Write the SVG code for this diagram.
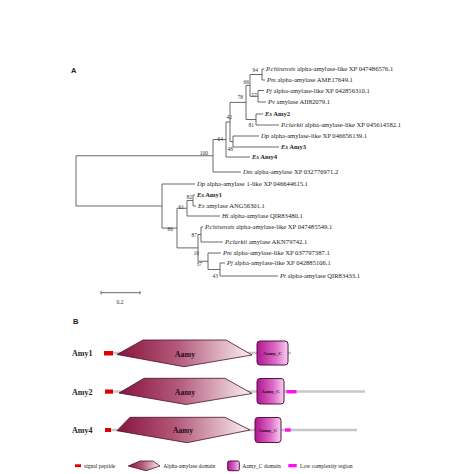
<svg xmlns="http://www.w3.org/2000/svg" width="474" height="474" viewBox="0 0 474 474">
<defs>
<linearGradient id="gAamy" x1="0" y1="0" x2="1" y2="0">
<stop offset="0" stop-color="#86143e"/>
<stop offset="0.45" stop-color="#b45a7a"/>
<stop offset="1" stop-color="#faf0f3"/>
</linearGradient>
<linearGradient id="gC" x1="0" y1="0" x2="1" y2="0">
<stop offset="0" stop-color="#b0168f"/>
<stop offset="0.6" stop-color="#dc6cc6"/>
<stop offset="1" stop-color="#f6d0ee"/>
</linearGradient>
<style>
.t{font-family:"Liberation Serif",serif;font-size:6.6px;fill:#222}
.i{font-style:italic}
.b{font-weight:bold}
.bs{font-family:"Liberation Serif",serif;font-size:5.5px;fill:#333;text-anchor:end}
.edge{fill:none;stroke:#444;stroke-width:0.8}
.hdr{font-family:"Liberation Sans",sans-serif;font-size:7.5px;font-weight:bold;fill:#222}
.nm{font-family:"Liberation Serif",serif;font-size:8px;font-weight:bold;fill:#222}
.dom{font-family:"Liberation Serif",serif;font-size:8px;font-weight:bold;fill:#2a0a18;text-anchor:middle}
.cl{font-family:"Liberation Serif",serif;font-size:5px;font-weight:bold;fill:#2a0a18;text-anchor:middle}
.lg{font-family:"Liberation Serif",serif;font-size:5.6px;fill:#222}
.line{stroke:#c8c8c8;stroke-width:2.6}
.sig{fill:#e00000}
.low{fill:#ff10ee}
.aamy{fill:url(#gAamy);stroke:#4a1028;stroke-width:0.8}
.aamyc{fill:url(#gC);stroke:#5a0f45;stroke-width:1}
</style>
</defs>
<rect width="474" height="474" fill="#fff"/>

<text class="hdr" x="71" y="73">A</text>
<text class="hdr" x="73" y="324">B</text>

<g id="connectors">
<path class="edge" d="
M76,155.75V206 M76,155.75H213 M76,206H162
M213,139.5V172 M213,139.5H226 M213,172H241
M226,122V157 M226,122H230 M226,157H250
M230,102.4V141.5 M230,102.4H246 M230,141.5H233
M233,136V147 M233,136H259 M233,147H279
M246,85.4V119.5 M246,85.4H250 M246,119.5H256
M256,114V125 M256,114H263 M256,125H279
M250,74.5V96.25 M250,74.5H262 M250,96.25H258
M262,69V80 M262,69H264 M262,80H265
M258,90.5V102 M258,90.5H264 M258,102H266
M162,184V228.1 M162,184H195 M162,228.1H177
M177,208.25V247.9 M177,208.25H187 M177,247.9H198
M187,200.5V216 M187,200.5H193 M187,216H220
M193,195V206 M193,195H195 M193,206H196
M198,234.5V261.25 M198,234.5H201 M198,261.25H208
M201,227V242 M201,227H203 M201,242H223
M208,253V269.5 M208,253H221 M208,269.5H220
M220,263V276 M220,263H225 M220,276H278"/>
</g>

<g id="bootstrap">
<text class="bs" x="258" y="72">94</text>
<text class="bs" x="249" y="84">66</text>
<text class="bs" x="257" y="97">57</text>
<text class="bs" x="243" y="99">78</text>
<text class="bs" x="232" y="119">42</text>
<text class="bs" x="254" y="127">81</text>
<text class="bs" x="223" y="141">64</text>
<text class="bs" x="233" y="151">48</text>
<text class="bs" x="208" y="155">100</text>
<text class="bs" x="192" y="199">82</text>
<text class="bs" x="184" y="209">61</text>
<text class="bs" x="173" y="231">86</text>
<text class="bs" x="197" y="237">87</text>
<text class="bs" x="199" y="255">16</text>
<text class="bs" x="202" y="266">37</text>
<text class="bs" x="218" y="278">43</text>
</g>

<g id="leaf-pchi1"><text class="t" x="266" y="71.2"><tspan class="i">P.chinensis</tspan> alpha-amylase-like XP 047486576.1</text></g>
<g id="leaf-pm1"><text class="t" x="267" y="82.2"><tspan class="i">Pm</tspan> alpha-amylase AME17649.1</text></g>
<g id="leaf-pj1"><text class="t" x="266" y="92.7"><tspan class="i">Pj</tspan> alpha-amylase-like XP 042856310.1</text></g>
<g id="leaf-pv"><text class="t" x="268" y="104.2"><tspan class="i">Pv</tspan> amylase AII82079.1</text></g>
<g id="leaf-amy2"><text class="t b" x="265" y="116.2"><tspan class="i">Es</tspan> Amy2</text></g>
<g id="leaf-pcl1"><text class="t" x="281" y="127.2"><tspan class="i">P.clarkii</tspan> alpha-amylase-like XP 045614582.1</text></g>
<g id="leaf-dp1"><text class="t" x="261" y="138.2"><tspan class="i">Dp</tspan> alpha-amylase-like XP 046656139.1</text></g>
<g id="leaf-amy3"><text class="t b" x="281" y="149.2"><tspan class="i">Es</tspan> Amy3</text></g>
<g id="leaf-amy4"><text class="t b" x="252" y="159.2"><tspan class="i">Es</tspan> Amy4</text></g>
<g id="leaf-dm"><text class="t" x="243" y="174.2"><tspan class="i">Dm</tspan> alpha-amylase XP 032776971.2</text></g>
<g id="leaf-dp2"><text class="t" x="197" y="186.2"><tspan class="i">Dp</tspan> alpha-amylase 1-like XP 046644615.1</text></g>
<g id="leaf-amy1"><text class="t b" x="197" y="197.2"><tspan class="i">Es</tspan> Amy1</text></g>
<g id="leaf-esamy"><text class="t" x="198" y="208.2"><tspan class="i">Es</tspan> amylase ANG56301.1</text></g>
<g id="leaf-hi"><text class="t" x="222" y="218.2"><tspan class="i">Hi</tspan> alpha-amylase QIR83480.1</text></g>
<g id="leaf-pchi2"><text class="t" x="205" y="229.2"><tspan class="i">P.chinensis</tspan> alpha-amylase-like XP 047485549.1</text></g>
<g id="leaf-pcl2"><text class="t" x="225" y="244.2"><tspan class="i">P.clarkii</tspan> amylase AKN79742.1</text></g>
<g id="leaf-pm2"><text class="t" x="223" y="255.2"><tspan class="i">Pm</tspan> alpha-amylase-like XP 037797387.1</text></g>
<g id="leaf-pj2"><text class="t" x="227" y="265.2"><tspan class="i">Pj</tspan> alpha-amylase-like XP 042885106.1</text></g>
<g id="leaf-pt"><text class="t" x="280" y="278.2"><tspan class="i">Pt</tspan> alpha-amylase QIR83433.1</text></g>

<g id="scale">
<path class="edge" d="M101,292.7H140 M101,291V294.4 M140,291V294.4"/>
<text class="bs" x="120" y="304" style="text-anchor:middle">0.2</text>
</g>

<g id="amy1">
<text class="nm" x="72" y="356">Amy1</text>
<line class="line" x1="113" y1="353" x2="291" y2="353"/>
<rect class="sig" x="104" y="351" width="9" height="4.5"/>
<polygon class="aamy" points="117,354.5 143,340 226,340 252,355 184,366.7"/>
<text class="dom" x="185" y="356.5">Aamy</text>
<rect class="aamyc" x="257" y="341" width="31" height="24" rx="3"/>
<text class="cl" x="272.5" y="354.5">Aamy_C</text>
</g>

<g id="amy2">
<text class="nm" x="72" y="394.5">Amy2</text>
<line class="line" x1="113" y1="391.5" x2="365" y2="391.5"/>
<rect class="sig" x="105" y="389.5" width="8" height="4.2"/>
<polygon class="aamy" points="119,393 144,378.3 225,378.3 252,393.5 186,404.5"/>
<text class="dom" x="185" y="395">Aamy</text>
<rect class="aamyc" x="257" y="378.5" width="27" height="25.5" rx="3"/>
<text class="cl" x="270.5" y="393">Aamy_C</text>
<rect class="low" x="286.5" y="390" width="10" height="3.4"/>
</g>

<g id="amy4">
<text class="nm" x="72" y="433">Amy4</text>
<line class="line" x1="110" y1="430" x2="357" y2="430"/>
<rect class="sig" x="105" y="428" width="6" height="4"/>
<polygon class="aamy" points="117,430.7 130,417.3 225,417.3 250,430 187,442.7"/>
<text class="dom" x="183" y="432.5">Aamy</text>
<rect class="aamyc" x="255" y="417.5" width="26" height="25" rx="3"/>
<text class="cl" x="268" y="431.5">Aamy_C</text>
<rect class="low" x="285" y="428.3" width="5.7" height="3.4"/>
</g>

<g id="legend">
<rect class="sig" x="75" y="464.3" width="6" height="2.8"/>
<text class="lg" x="84" y="467.6">signal peptide</text>
<polygon class="aamy" points="128.3,466 140,461 153,461 160,466 146,470.7"/>
<text class="lg" x="163.3" y="467.6">Alpha-amylase domain</text>
<rect class="aamyc" x="227.7" y="461" width="11.6" height="9.7" rx="1.5"/>
<text class="lg" x="242.3" y="467.6">Aamy_C domain</text>
<rect class="low" x="288.3" y="464" width="8.4" height="3.3"/>
<text class="lg" x="300" y="467.6">Low complexity region</text>
</g>
</svg>
